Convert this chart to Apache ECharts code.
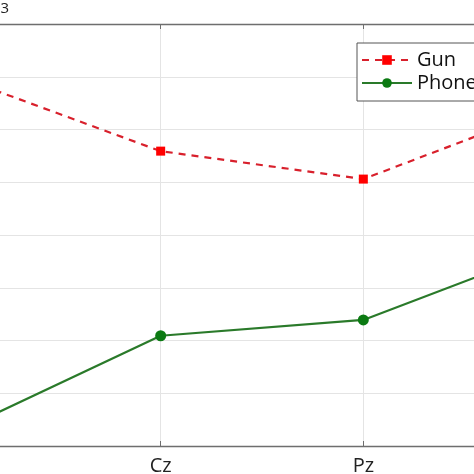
<!DOCTYPE html>
<html>
<head>
<meta charset="utf-8">
<script src="https://cdn.jsdelivr.net/npm/echarts@6/dist/echarts.min.js"></script>
<style>
html,body{margin:0;padding:0;background:#fff;}
#c{width:474px;height:474px;}
</style>
</head>
<body>
<div id="c"></div>
<script>
const categories = ['Fz', 'Cz', 'Pz', 'Oz'];
const gunValues = [7.0, 5.59, 5.06, 6.52];
const phoneValues = [0.28, 2.09, 2.39, 3.85];
const yMin = 0, yMax = 8, yStep = 1;

const chart = echarts.init(document.getElementById('c'), null, {renderer: 'canvas'});
const font = '"Open Sans", "Noto Sans", sans-serif';
chart.setOption({
  animation: false,
  backgroundColor: '#fff',
  grid: {left: -42, right: -92, top: 24, bottom: 28, containLabel: false, outerBoundsMode: 'none'},
  xAxis: [{
    type: 'category', data: categories, boundaryGap: false, position: 'bottom',
    axisLine: {show: true, lineStyle: {color: '#6e6e6e', width: 1.3}},
    axisTick: {show: true, inside: true, length: 5, alignWithLabel: true, lineStyle: {color: '#6e6e6e'}},
    axisLabel: {show: true, color: '#222', fontSize: 20, fontFamily: font, margin: 10},
    splitLine: {show: true, lineStyle: {color: '#e4e4e4', width: 1}}
  }, {
    type: 'category', data: categories, boundaryGap: false, position: 'top',
    axisLine: {show: true, lineStyle: {color: '#6e6e6e', width: 1.3}},
    axisTick: {show: true, inside: true, length: 5, alignWithLabel: true, lineStyle: {color: '#6e6e6e'}},
    axisLabel: {show: false}, splitLine: {show: false}
  }],
  yAxis: {
    type: 'value', min: yMin, max: yMax, interval: yStep,
    axisLine: {show: false}, axisTick: {show: false}, axisLabel: {show: false},
    splitLine: {show: true, lineStyle: {color: '#e4e4e4', width: 1}}
  },
  legend: {
    orient: 'vertical', left: 357, top: 43,
    backgroundColor: '#fff', borderColor: '#555', borderWidth: 1,
    padding: [6, 60, 7, 4], itemGap: 1, itemWidth: 50, itemHeight: 12,
    textStyle: {fontSize: 20, fontFamily: font, color: '#111', lineHeight: 22},
    data: ['Gun', 'Phone']
  },
  series: [{
    name: 'Gun', type: 'line', data: gunValues,
    symbol: 'rect', symbolSize: 9,
    itemStyle: {color: '#ff0000'},
    lineStyle: {color: '#d8202c', width: 2.2, type: [7, 6]}
  }, {
    name: 'Phone', type: 'line', data: phoneValues,
    symbol: 'circle', symbolSize: 11,
    itemStyle: {color: '#0b7a12'},
    lineStyle: {color: '#2a7a2a', width: 2.2}
  }],
  graphic: [{
    type: 'text', right: 465, top: 1,
    style: {
      text: '{a|×10}{b|-3}', align: 'right',
      rich: {
        a: {fontSize: 20, fontFamily: font, fill: '#222', lineHeight: 26, verticalAlign: 'bottom'},
        b: {fontSize: 15, fontFamily: font, fill: '#222', verticalAlign: 'top'}
      }
    }
  }]
});
</script>
</body>
</html>
